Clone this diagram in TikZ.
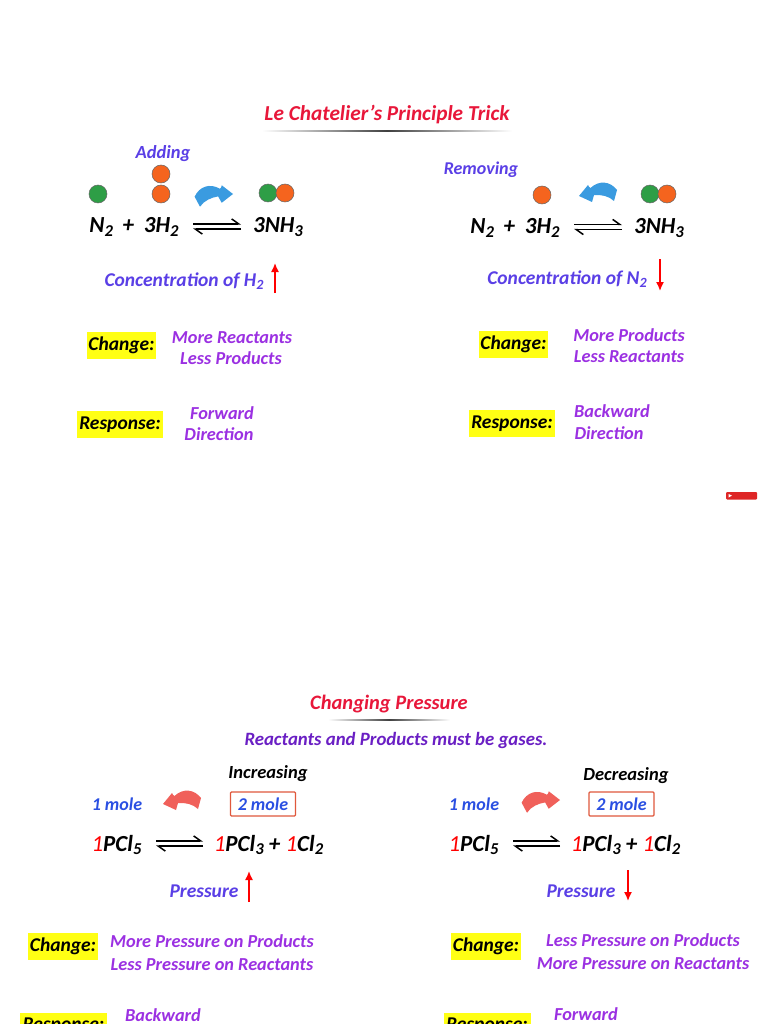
\documentclass[tikz,border=0pt]{standalone}
\usepackage{fontspec}
\setmainfont{Carlito}
\usetikzlibrary{arrows.meta}
\definecolor{titlered}{HTML}{E8173A}
\definecolor{violetblue}{HTML}{5A3FE6}
\definecolor{purp}{HTML}{9B30E2}
\definecolor{deeppurp}{HTML}{6A1FC4}
\definecolor{moleblue}{HTML}{2A4FE2}
\definecolor{skyb}{HTML}{3A9BE0}
\definecolor{salmon}{HTML}{F0605A}
\definecolor{dotgreen}{HTML}{2E9E46}
\definecolor{dotorange}{HTML}{F5641E}
\definecolor{hl}{HTML}{FFFF14}
\definecolor{boxred}{HTML}{E0583C}
\newcommand{\sbs}[1]{\raisebox{-0.3ex}{\fontsize{0.72em}{1em}\selectfont #1}}
\newcommand{\rone}{{\color{red}\mdseries 1}}
\newcommand{\lowr}[1]{\raisebox{-1pt}{#1}}
\newcommand{\eqarr}[2]{%
  \draw[eqline] ([yshift=2.6pt]#1) -- ([yshift=2.6pt]#2);
  \draw[eqline] ([yshift=-2.6pt]#2) -- ([yshift=-2.6pt]#1);}
\newcommand{\bentshape}{(0,0) -- (9,-11) .. controls (9.5,-9.5) and (10.5,-8.5) .. (11.5,-8) .. controls (20,-16) and (31,-15) .. (38,-6) -- (35,5) .. controls (30,0) and (22,-1.5) .. (15,-1) -- (13,6) -- cycle}
\tikzset{
  x=1pt,y=-1pt,
  every node/.style={inner sep=0pt,outer sep=0pt,font=\bfseries\itshape},
  titletext/.style={yshift=-1pt,text=titlered,font=\bfseries\itshape\fontsize{21.3}{24}\selectfont},
  titletwo/.style={yshift=-1pt,text=titlered,font=\bfseries\itshape\fontsize{20.5}{24}\selectfont},
  bluetext/.style={yshift=-1pt,text=violetblue,font=\bfseries\itshape\fontsize{19.5}{22}\selectfont},
  purptext/.style={yshift=-0.5pt,text=purp,font=\bfseries\itshape\fontsize{18.3}{20}\selectfont},
  deeptext/.style={yshift=-1pt,text=deeppurp,font=\bfseries\itshape\fontsize{18.8}{20}\selectfont},
  moletext/.style={text=moleblue,font=\bfseries\itshape\fontsize{18}{22}\selectfont},
  blacktext/.style={yshift=-1pt,text=black,font=\bfseries\itshape\fontsize{18.5}{20}\selectfont},
  formula/.style={yshift=-1pt,text=black,font=\bfseries\itshape\fontsize{23}{25}\selectfont},
  hlbox/.style={fill=hl,text=black,font=\bfseries\itshape\fontsize{19.5}{21}\selectfont,minimum height=27pt,anchor=center},
  dot/.style={circle,draw=black!60,line width=0.5pt,minimum size=18pt},
  gdot/.style={dot,fill=dotgreen},
  odot/.style={dot,fill=dotorange},
  eqline/.style={line width=1.5pt,black,-{Straight Barb[left,length=7pt,width=10pt]}},
  redarrow/.style={line width=1.5pt,red,-{Latex[length=9pt,width=8pt]}},
  molebox/.style={draw=boxred,line width=1.3pt,rounded corners=1pt,text=moleblue,font=\bfseries\itshape\fontsize{18}{22}\selectfont,minimum width=65pt,minimum height=24pt},
}
\begin{document}
\begin{tikzpicture}
\useasboundingbox (0,0) rectangle (768,1024);
\clip (0,0) rectangle (768,1024);
\fill[white] (0,0) rectangle (768,1024);

% --- Title
\node[titletext] (title) at (387,114) {Le Chatelier's Principle Trick};
\shade[left color=white,right color=black!75] (262,130.2) rectangle (387,131.8);
\shade[left color=black!75,right color=white] (387,130.2) rectangle (512,131.8);

% --- Left top
\node[bluetext,font=\bfseries\itshape\fontsize{18.5}{22}\selectfont] (adding) at (163,153) {Adding};
\node[gdot] (d1) at (98,194) {};
\node[odot] (d2) at (161,174) {};
\node[odot] (d3) at (161,194) {};
\node[gdot] (d4) at (268,193) {};
\node[odot] (d5) at (285,193) {};
\fill[skyb,shift={(233,194)},xscale=-1,rotate=-13] \bentshape;
\node[formula] (r1) at (134,226) {N\sbs{2}\hspace{0.2em} + \hspace{0.2em}3H\sbs{2}};
\node[formula] (p1) at (278,226) {3NH\sbs{3}};
\coordinate (e1a) at (193,226.5);
\coordinate (e1b) at (241,226.5);
\eqarr{e1a}{e1b}
\node[bluetext] (c1) at (184,280) {Concentration of H\sbs{2}};
\coordinate (u1a) at (275,293);
\coordinate (u1b) at (275,263);
\draw[redarrow] (u1a) -- (u1b);
\node[hlbox,minimum width=69pt] (chg1) at (121.5,345.5) {\lowr{Change:}};
\node[purptext] (t1a) at (232,337) {More Reactants};
\node[purptext] (t1b) at (231,358) {Less Products};
\node[hlbox,minimum width=86pt] (rsp1) at (120,424.5) {\lowr{Response:}};
\node[purptext] (t1c) at (222,413) {Forward};
\node[purptext] (t1d) at (219,434) {Direction};

% --- Right top
\node[bluetext,font=\bfseries\itshape\fontsize{18}{22}\selectfont] (removing) at (481,169) {Removing};
\node[odot] (d6) at (542,195) {};
\node[gdot] (d7) at (650,194) {};
\node[odot] (d8) at (667,194) {};
\fill[skyb,shift={(579,196)}] \bentshape;
\node[formula] (r2) at (515,227) {N\sbs{2}\hspace{0.2em} + \hspace{0.2em}3H\sbs{2}};
\node[formula] (p2) at (659,227) {3NH\sbs{3}};
\coordinate (e2a) at (574,227);
\coordinate (e2b) at (622,227);
\eqarr{e2a}{e2b}
\node[bluetext] (c2) at (567,278) {Concentration of N\sbs{2}};
\coordinate (u2a) at (660,259);
\coordinate (u2b) at (660,291);
\draw[redarrow] (u2a) -- (u2b);
\node[hlbox,minimum width=69pt] (chg2) at (513.5,344) {\lowr{Change:}};
\node[purptext] (t2a) at (629,335) {More Products};
\node[purptext] (t2b) at (629,356) {Less Reactants};
\node[hlbox,minimum width=86pt] (rsp2) at (512,423.5) {\lowr{Response:}};
\node[purptext] (t2c) at (612,411) {Backward};
\node[purptext] (t2d) at (609,433) {Direction};

% --- Subscribe badge
\fill[red!85!black,opacity=0.85,rounded corners=1pt] (726,492) rectangle (757,499.5);
\fill[white] (728.5,494) -- (732,495.7) -- (728.5,497.5) -- cycle;

% --- Changing pressure heading
\node[titletwo] (title2) at (389,703) {Changing Pressure};
\shade[left color=white,right color=black!75] (328,719.4) rectangle (389,720.8);
\shade[left color=black!75,right color=white] (389,719.4) rectangle (450,720.8);
\node[deeptext] (gases) at (396,739) {Reactants and Products must be gases.};

% --- Bottom left
\node[blacktext] (inc) at (268,773) {Increasing};
\node[moletext] (m1) at (117,804) {1 mole};
\node[molebox] (m2) at (263,804) {2 mole};
\fill[salmon,shift={(163,804)}] \bentshape;
\node[formula] (r3) at (116.5,844) {\rone PCl\sbs{5}};
\node[formula] (p3) at (268.5,844) {\rone PCl\sbs{3} + \rone Cl\sbs{2}};
\coordinate (e3a) at (156,843.5);
\coordinate (e3b) at (203,843.5);
\eqarr{e3a}{e3b}
\node[bluetext] (pr1) at (204,890) {Pressure};
\coordinate (u3a) at (249,902);
\coordinate (u3b) at (249,871);
\draw[redarrow] (u3a) -- (u3b);
\node[hlbox,minimum width=70pt] (chg3) at (63,946.5) {\lowr{Change:}};
\node[purptext] (t3a) at (212,941) {More Pressure on Products};
\node[purptext] (t3b) at (212,964) {Less Pressure on Reactants};
\node[hlbox,minimum width=87pt] (rsp3) at (63.5,1026) {\lowr{Response:}};
\node[purptext] (t3c) at (163,1015) {Backward};

% --- Bottom right
\node[blacktext] (dec) at (626,775) {Decreasing};
\node[moletext] (m3) at (474,804) {1 mole};
\node[molebox] (m4) at (621.5,804) {2 mole};
\fill[salmon,shift={(560,800)},xscale=-1,rotate=-13] \bentshape;
\node[formula] (r4) at (473.5,844) {\rone PCl\sbs{5}};
\node[formula] (p4) at (625.5,844) {\rone PCl\sbs{3} + \rone Cl\sbs{2}};
\coordinate (e4a) at (513,843.5);
\coordinate (e4b) at (560,843.5);
\eqarr{e4a}{e4b}
\node[bluetext] (pr2) at (581,890) {Pressure};
\coordinate (u4a) at (628,870);
\coordinate (u4b) at (628,901);
\draw[redarrow] (u4a) -- (u4b);
\node[hlbox,minimum width=70pt] (chg4) at (486,946) {\lowr{Change:}};
\node[purptext] (t4a) at (643,940) {Less Pressure on Products};
\node[purptext] (t4b) at (643,963) {More Pressure on Reactants};
\node[hlbox,minimum width=87pt] (rsp4) at (487,1026) {\lowr{Response:}};
\node[purptext] (t4c) at (586,1014) {Forward};
\end{tikzpicture}
\end{document}
